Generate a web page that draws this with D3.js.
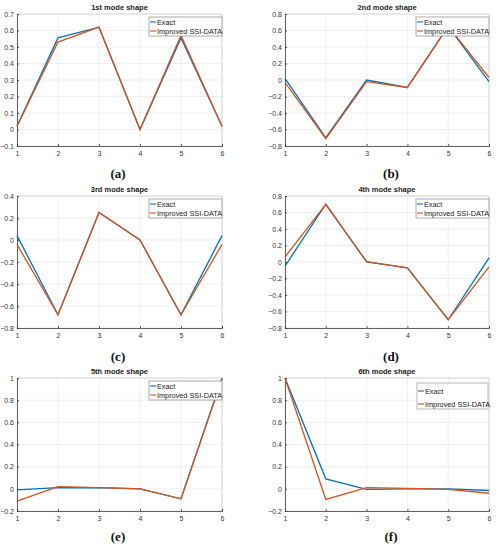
<!DOCTYPE html>
<html>
<head>
<meta charset="utf-8">
<script src="https://cdn.jsdelivr.net/npm/d3@7"></script>
<style>
  body { margin: 0; background: #fff; }
  text { font-family: "Liberation Sans", Arial, sans-serif; }
</style>
</head>
<body>
<div id="chart"></div>
<script>
// mode shape data
var nodes = [1, 2, 3, 4, 5, 6];
var titles = ["1st mode shape", "2nd mode shape", "3rd mode shape", "4th mode shape", "5th mode shape", "6th mode shape"];
var letters = ["(a)", "(b)", "(c)", "(d)", "(e)", "(f)"];

var exact1 = [0.02, 0.555, 0.62, 0.0, 0.555, 0.02];
var improved1 = [0.02, 0.53, 0.62, 0.0, 0.57, 0.02];
var exact2 = [0.02, -0.70, 0.0, -0.09, 0.65, -0.02];
var improved2 = [-0.03, -0.71, -0.02, -0.09, 0.65, 0.03];
var exact3 = [0.04, -0.68, 0.25, 0.0, -0.68, 0.04];
var improved3 = [-0.04, -0.68, 0.25, 0.0, -0.68, -0.04];
var exact4 = [-0.05, 0.70, 0.0, -0.07, -0.70, 0.05];
var improved4 = [0.06, 0.70, 0.005, -0.07, -0.70, -0.06];
var exact5 = [-0.01, 0.01, 0.01, 0.0, -0.09, 1.0];
var improved5 = [-0.11, 0.02, 0.01, 0.0, -0.09, 0.99];
var exact6 = [1.0, 0.09, -0.005, 0.0, 0.0, -0.015];
var improved6 = [1.0, -0.095, 0.01, 0.005, -0.005, -0.04];

var yDomains = [[-0.1, 0.7], [-0.8, 0.8], [-0.8, 0.4], [-0.8, 0.8], [-0.2, 1], [-0.2, 1]];
var yTicks = [
  [-0.1, 0, 0.1, 0.2, 0.3, 0.4, 0.5, 0.6, 0.7],
  [-0.8, -0.6, -0.4, -0.2, 0, 0.2, 0.4, 0.6, 0.8],
  [-0.8, -0.6, -0.4, -0.2, 0, 0.2, 0.4],
  [-0.8, -0.6, -0.4, -0.2, 0, 0.2, 0.4, 0.6, 0.8],
  [-0.2, 0, 0.2, 0.4, 0.6, 0.8, 1],
  [-0.2, 0, 0.2, 0.4, 0.6, 0.8, 1]
];
var seriesNames = ["Exact", "Improved SSI-DATA"];
var exactAll = [exact1, exact2, exact3, exact4, exact5, exact6];
var improvedAll = [improved1, improved2, improved3, improved4, improved5, improved6];

var colors = ["#0072BD", "#D95319"];

var svg = d3.select("#chart").append("svg")
  .attr("width", 498).attr("height", 550);

// panel boxes (plot area) per panel
var boxes = [
  {left: 17, top: 14, w: 205, h: 132},
  {left: 285, top: 14, w: 204, h: 132},
  {left: 17, top: 196, w: 205, h: 132},
  {left: 285, top: 196, w: 204, h: 132},
  {left: 17, top: 378, w: 205, h: 133},
  {left: 285, top: 378, w: 204, h: 133}
];
var letterPos = [[118, 178], [391, 178], [118, 361], [391, 361], [118, 541], [391, 541]];

function fmt(v) {
  if (v === 0) return "0";
  return d3.format("")(+v.toFixed(1));
}

boxes.forEach(function(b, i) {
  var g = svg.append("g").attr("transform", "translate(" + b.left + "," + b.top + ")");
  var x = d3.scaleLinear().domain([1, 6]).range([0, b.w]);
  var y = d3.scaleLinear().domain(yDomains[i]).range([b.h, 0]);

  // grid
  g.append("g").selectAll("line").data(yTicks[i]).enter().append("line")
    .attr("x1", 0).attr("x2", b.w)
    .attr("y1", d => y(d)).attr("y2", d => y(d))
    .attr("stroke", "#ebebeb").attr("stroke-width", 0.8);
  g.append("g").selectAll("line").data(nodes).enter().append("line")
    .attr("y1", 0).attr("y2", b.h)
    .attr("x1", d => x(d)).attr("x2", d => x(d))
    .attr("stroke", "#ebebeb").attr("stroke-width", 0.8);

  // box top/right
  g.append("path")
    .attr("d", "M0,0H" + b.w + "V" + b.h)
    .attr("fill", "none").attr("stroke", "#d0d0d0").attr("stroke-width", 0.8);

  // axes
  var xAxis = g.append("g").attr("transform", "translate(0," + b.h + ")")
    .call(d3.axisBottom(x).tickValues(nodes).tickSize(-2).tickPadding(5).tickFormat(d3.format("d")));
  var yAxis = g.append("g")
    .call(d3.axisLeft(y).tickValues(yTicks[i]).tickSize(-2).tickPadding(3).tickFormat(fmt));
  [xAxis, yAxis].forEach(function(a) {
    a.select(".domain").attr("stroke", "#3a3a3a").attr("stroke-width", 0.8);
    a.selectAll(".tick line").attr("stroke", "#3a3a3a").attr("stroke-width", 0.8);
    a.selectAll("text").attr("fill", "#333").style("font-size", "7px")
      .style("font-family", "'Liberation Sans', Arial, sans-serif");
  });

  // lines
  var line = d3.line().x((d, j) => x(nodes[j])).y(d => y(d));
  [exactAll[i], improvedAll[i]].forEach(function(s, k) {
    g.append("path").datum(s)
      .attr("d", line)
      .attr("fill", "none")
      .attr("stroke", colors[k])
      .attr("stroke-width", 1.3);
  });

  // title
  g.append("text").attr("x", b.w / 2).attr("y", -4)
    .attr("text-anchor", "middle")
    .style("font-size", "7.5px").style("font-weight", "bold").attr("fill", "#222")
    .text(titles[i]);

  // legend
  var big = (i === 5);
  var lw = big ? 71 : 73, lh = big ? 26 : 19;
  var lx = b.w - lw + (big ? -1 : 0), ly = big ? 5 : 3;
  var leg = g.append("g").attr("transform", "translate(" + lx + "," + ly + ")");
  leg.append("rect").attr("width", lw).attr("height", lh)
    .attr("fill", "#fff").attr("stroke", big ? "#999" : "#888").attr("stroke-width", 0.7);
  seriesNames.forEach(function(n, k) {
    var yy = big ? 8 + k * 13 : 5 + k * 9;
    leg.append("line").attr("x1", 1).attr("x2", 7).attr("y1", yy).attr("y2", yy)
      .attr("stroke", colors[k]).attr("stroke-width", 1.1);
    leg.append("text").attr("x", 8).attr("y", yy + 2.6)
      .style("font-size", "7.3px").attr("fill", "#222").text(n);
  });

  // panel letter
  svg.append("text").attr("x", letterPos[i][0]).attr("y", letterPos[i][1])
    .attr("text-anchor", "middle")
    .style("font-family", "'Liberation Serif', 'Times New Roman', serif")
    .style("font-size", "13px").style("font-weight", "bold").attr("fill", "#111")
    .text(letters[i]);
});
</script>
</body>
</html>
